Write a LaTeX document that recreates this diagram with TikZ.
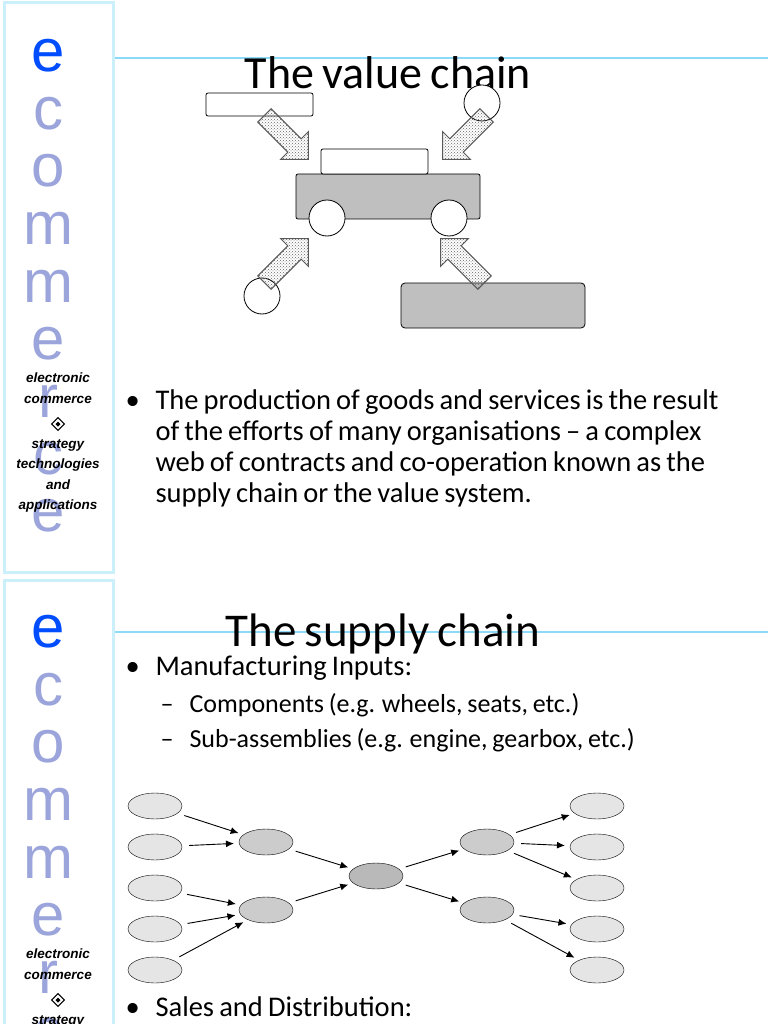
\documentclass[tikz,border=0pt]{standalone}
\usepackage{fontspec}
\setmainfont{Carlito}[WordSpace={0.8,0.5,0.5}]
\newfontfamily\sidefont{Liberation Sans}
\usetikzlibrary{shapes.arrows,shapes.geometric,patterns,arrows.meta}
\tikzset{
  fat/.style={single arrow, draw=gray!70!black, line width=1pt, pattern=crosshatch dots, pattern color=gray!80!black,
    minimum height=62pt, single arrow head extend=10pt, inner sep=9pt},
  blob/.style={ellipse, draw, minimum width=54pt, minimum height=26pt, inner sep=0pt},
  bul/.style={font=\fontsize{28.5}{31}\selectfont},
  subbul/.style={font=\fontsize{26}{30}\selectfont},
}
\newcommand{\sidebar}[1]{%
  \begin{scope}[yshift=#1]
    \foreach \l [count=\i] in {c,o,m,m,e,r,c,e} {
      \node[text=cyan!30!blue!40, font=\sidefont\fontsize{60}{60}\selectfont] (L\i) at (48,{-56-57.5*\i}) {\l};
    }
    \node[text=blue!70!cyan, font=\sidefont\fontsize{60}{60}\selectfont] (L0) at (48,-56) {e};
    \node[align=center, font=\sidefont\bfseries\itshape\fontsize{13.5}{20.5}\selectfont] (side) at (58,-388)
      {electronic\\commerce};
    \node[draw, rotate=45, minimum size=9pt, inner sep=0pt, line width=1pt] (dia) at (58,-424) {};
    \fill (dia.center) +(-2.5pt,0) -- +(0,2.5pt) -- +(2.5pt,0) -- +(0,-2.5pt) -- cycle;
    \node[align=center, font=\sidefont\bfseries\itshape\fontsize{13.5}{20.5}\selectfont, anchor=north] (topics) at (58,-436)
      {strategy\\technologies\\and\\applications};
  \end{scope}
}
\begin{document}
\begin{tikzpicture}[x=1pt, y=1pt]
  \useasboundingbox (0,0) rectangle (768,-1024);
  \fill[white] (0,0) rectangle (768,-1024);
  \begin{scope}
    \clip (0,0) rectangle (768,-1024);
    % side panels
    \draw[cyan!20, line width=3pt] (4,-3) rectangle (113,-572);
    \draw[cyan!20, line width=3pt] (4,-580) rectangle (113,-1030);
    \sidebar{0pt}
    \sidebar{-576pt}
  \end{scope}
  \draw[cyan!45, line width=1.2pt] (115,-58) -- (768,-58);
  \draw[cyan!45, line width=1.2pt] (115,-632) -- (768,-632);

  % the value chain
  \node[font=\fontsize{46}{48}\selectfont] (title1) at (388,-73) {The value chain};
  \draw[rounded corners=2pt, fill=gray!50, thick] (296,-174) rectangle (480,-219);
  \draw[rounded corners=2pt, fill=white, thick] (321,-149) rectangle (428,-174);
  \draw[fill=white, thick] (327,-218) circle (18);
  \draw[fill=white, thick] (449,-218) circle (18);
  \draw[rounded corners=2pt, fill=white, thick] (206,-93) rectangle (313,-116);
  \draw[fill=white, thick] (482,-103) circle (18);
  \draw[fill=white, thick] (262,-296) circle (18);
  \draw[rounded corners=4pt, fill=gray!50, thick] (401,-283) rectangle (585,-328);
  \node[fat, rotate=-45] (a1) at (283,-134) {};
  \node[fat, rotate=-135] (a2) at (468,-134) {};
  \node[fat, rotate=45] (a3) at (283,-264) {};
  \node[fat, rotate=135] (a4) at (466,-264) {};

  \node[anchor=north west, align=left, bul] (txt1) at (122,-386)
    {\makebox[30pt][l]{\textbullet}The production of goods and services is the result\\
     \hspace*{30pt}of the efforts of many organisations -- a complex\\
     \hspace*{30pt}web of contracts and co-operation known as the\\
     \hspace*{30pt}supply chain or the value system.};

  % the supply chain
  \node[font=\fontsize{47}{48}\selectfont] (title2) at (383,-634) {The supply chain};
  \node[anchor=west, bul] (man) at (122,-668)
    {\makebox[30pt][l]{\textbullet}Manufacturing Inputs:};
  \node[anchor=west, subbul] (comp) at (157,-705)
    {\makebox[29pt][l]{--}Components (e.g. wheels, seats, etc.)};
  \node[anchor=west, subbul] (sub) at (157,-740)
    {\makebox[29pt][l]{--}Sub-assemblies (e.g. engine, gearbox, etc.)};
  \node[anchor=west, bul] (sales) at (122,-1007)
    {\makebox[30pt][l]{\textbullet}Sales and Distribution:};

  \foreach \i/\y in {1/806,2/847,3/888,4/929,5/970} {
    \node[blob, fill=gray!20] (s\i) at (155,-\y) {};
    \node[blob, fill=gray!20] (c\i) at (597,-\y) {};
  }
  \node[blob, fill=gray!40] (m1) at (266,-842) {};
  \node[blob, fill=gray!40] (m2) at (266,-910) {};
  \node[blob, fill=gray!55] (hub) at (376,-876) {};
  \node[blob, fill=gray!40] (d1) at (487,-842) {};
  \node[blob, fill=gray!40] (d2) at (487,-910) {};
  \begin{scope}[-{Latex[length=8pt,width=7pt]}, line width=0.9pt, shorten <=7pt, shorten >=5pt]
    \draw (s1) -- (m1); \draw (s2) -- (m1);
    \draw (s3) -- (m2); \draw (s4) -- (m2); \draw (s5) -- (m2);
    \draw (m1) -- (hub); \draw (m2) -- (hub);
    \draw (hub) -- (d1); \draw (hub) -- (d2);
    \draw (d1) -- (c1); \draw (d1) -- (c2); \draw (d1) -- (c3);
    \draw (d2) -- (c4); \draw (d2) -- (c5);
  \end{scope}
\end{tikzpicture}
\end{document}
